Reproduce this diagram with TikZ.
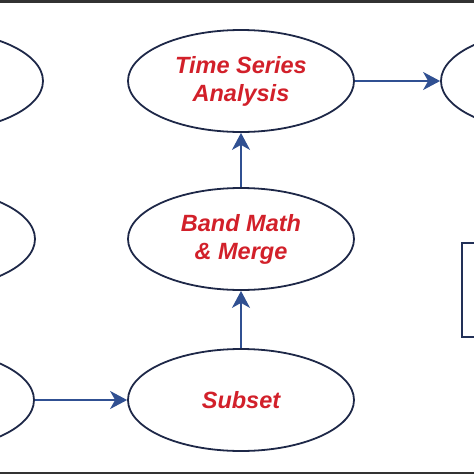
\documentclass[tikz,border=0pt]{standalone}
\usepackage{fontspec}
\setmainfont{Liberation Sans}
\usetikzlibrary{arrows.meta,shapes.geometric}
\definecolor{labelred}{RGB}{210,32,42}
\definecolor{edgenavy}{RGB}{30,40,72}
\definecolor{flowblue}{RGB}{48,80,146}
\definecolor{bargray}{RGB}{50,50,50}

\begin{document}
\begin{tikzpicture}[x=1pt,y=-1pt,
    proc/.style={ellipse,draw=edgenavy,line width=1.8pt,minimum width=226pt,
      minimum height=102pt,inner sep=0pt,text=labelred,align=center,
      font=\fontsize{23.5}{28}\selectfont\bfseries\itshape},
    flow/.style={draw=flowblue,line width=1.8pt,
      -{Stealth[length=17pt,width=18pt,inset=5pt]}}]
  \useasboundingbox (0,0) rectangle (474,474);
  \clip (0,0) rectangle (474,474);
  \draw
    (-70,81) node[proc] (src1){}
    (-78,239) node[proc] (src2){}
    (-79,400) node[proc] (src3){}
    (241,81) node[proc] (tsa){Time Series\\Analysis}
    (241,239) node[proc] (bmm){Band Math\\\& Merge}
    (241,400) node[proc] (sub){Subset}
    (554,81) node[proc] (res){};
  \node[draw=edgenavy!80!flowblue,line width=1.8pt,minimum width=76pt,
    minimum height=94pt] (legend) at (500,290) {};
  \fill[bargray] (0,0) rectangle (474,2.5);
  \fill[bargray] (0,471.5) rectangle (474,474);
  \begin{scope}[flow]
    \draw (src3.east) -- (sub.west);
    \draw (sub.north) -- (bmm.south);
    \draw (bmm.north) -- (tsa.south);
    \draw (tsa.east) -- (res.west);
  \end{scope}
\end{tikzpicture}
\end{document}
